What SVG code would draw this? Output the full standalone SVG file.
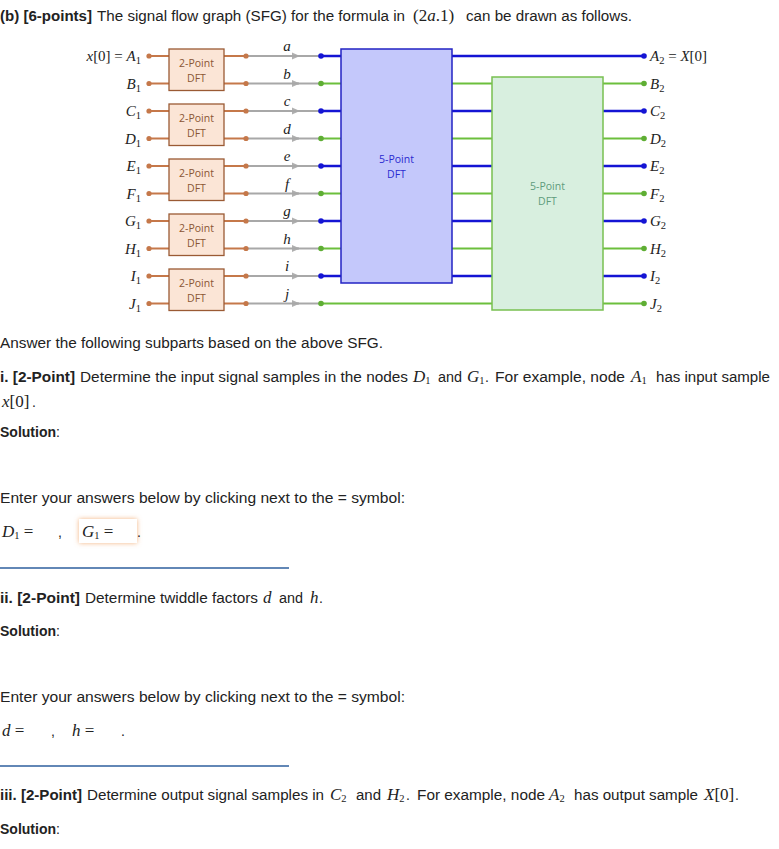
<svg xmlns="http://www.w3.org/2000/svg" width="779" height="849" viewBox="0 0 779 849">
<style>
.t{font-family:"Liberation Sans",Arial,sans-serif;font-size:14px;fill:#222}
.b{font-weight:bold}
.m{font-family:"Liberation Serif","Times New Roman",serif;font-size:17px;fill:#222}
.i{font-style:italic}
.lab{font-family:"Liberation Serif","Times New Roman",serif;font-size:15px;fill:#222}
.sub{font-size:10.5px}
.or{stroke:#c5784a;stroke-width:2;fill:none}
.gr{stroke:#a8a8a8;stroke-width:2;fill:none}
.bl{stroke:#1414d4;stroke-width:2.5;fill:none}
.gn{stroke:#6cbf3c;stroke-width:2;fill:none}
.dor{fill:#c5784a}
.dbl{fill:#1414d4}
.dgn{fill:#5fae34}
.box2{fill:#fbe5d6;stroke:#9a5a34;stroke-width:1.3}
.t2{font-family:"Open Sans","Liberation Sans",sans-serif;font-size:10.5px;fill:#8a5634;text-anchor:middle}
.t5{font-family:"Open Sans","Liberation Sans",sans-serif;font-size:10.5px;text-anchor:middle}
.hr{stroke:#2e5f9e;stroke-width:1.3}
</style>
<defs>
<marker id="ah" markerWidth="8" markerHeight="8" refX="7" refY="4" orient="auto" markerUnits="userSpaceOnUse">
<path d="M0,0.5 L8,4 L0,7.5 Z" fill="#b0b0b0"/>
</marker>
<filter id="glow" x="-30%" y="-50%" width="160%" height="200%">
<feDropShadow dx="0" dy="0" stdDeviation="2.5" flood-color="#f0a060" flood-opacity="0.8"/>
</filter>
</defs>

<!-- header -->
<text class="t b" x="0" y="21" textLength="92" lengthAdjust="spacingAndGlyphs">(b) [6-points]</text>
<text class="t" x="97" y="21" textLength="308" lengthAdjust="spacingAndGlyphs">The signal flow graph (SFG) for the formula in</text>
<text class="m" x="413" y="21">(2<tspan class="i">a</tspan>.1)</text>
<text class="t" x="466" y="21" textLength="166" lengthAdjust="spacingAndGlyphs">can be drawn as follows.</text>

<!-- connectors -->
<g id="connectors">
<g class="or">
<path d="M149,56H169M149,83.5H169M149,111H169M149,138.5H169M149,166H169M149,193.5H169M149,221H169M149,248.5H169M149,276H169M149,303.5H169"/>
<path d="M224,56H246M224,83.5H246M224,111H246M224,138.5H246M224,166H246M224,193.5H246M224,221H246M224,248.5H246M224,276H246M224,303.5H246"/>
</g>
<g class="gr">
<path d="M246,56H299" marker-end="url(#ah)"/><path d="M292,56H321"/>
<path d="M246,83.5H299" marker-end="url(#ah)"/><path d="M292,83.5H321"/>
<path d="M246,111H299" marker-end="url(#ah)"/><path d="M292,111H321"/>
<path d="M246,138.5H299" marker-end="url(#ah)"/><path d="M292,138.5H321"/>
<path d="M246,166H299" marker-end="url(#ah)"/><path d="M292,166H321"/>
<path d="M246,193.5H299" marker-end="url(#ah)"/><path d="M292,193.5H321"/>
<path d="M246,221H299" marker-end="url(#ah)"/><path d="M292,221H321"/>
<path d="M246,248.5H299" marker-end="url(#ah)"/><path d="M292,248.5H321"/>
<path d="M246,276H299" marker-end="url(#ah)"/><path d="M292,276H321"/>
<path d="M246,303.5H299" marker-end="url(#ah)"/><path d="M292,303.5H321"/>
</g>
<path class="bl" d="M321,56H644M321,111H341M321,166H341M321,221H341M321,276H341M452,111H492M452,166H492M452,221H492M452,276H492M603,111H644M603,166H644M603,221H644M603,276H644"/>
<path class="gn" d="M321,83.5H341M321,138.5H341M321,193.5H341M321,248.5H341M321,303.5H492M452,83.5H492M452,138.5H492M452,193.5H492M452,248.5H492M603,83.5H644M603,138.5H644M603,193.5H644M603,248.5H644M603,303.5H644"/>
<g class="dor">
<circle cx="149" cy="56" r="2.6"/><circle cx="149" cy="83.5" r="2.6"/><circle cx="149" cy="111" r="2.6"/><circle cx="149" cy="138.5" r="2.6"/><circle cx="149" cy="166" r="2.6"/><circle cx="149" cy="193.5" r="2.6"/><circle cx="149" cy="221" r="2.6"/><circle cx="149" cy="248.5" r="2.6"/><circle cx="149" cy="276" r="2.6"/><circle cx="149" cy="303.5" r="2.6"/>
<circle cx="246" cy="56" r="2.6"/><circle cx="246" cy="83.5" r="2.6"/><circle cx="246" cy="111" r="2.6"/><circle cx="246" cy="138.5" r="2.6"/><circle cx="246" cy="166" r="2.6"/><circle cx="246" cy="193.5" r="2.6"/><circle cx="246" cy="221" r="2.6"/><circle cx="246" cy="248.5" r="2.6"/><circle cx="246" cy="276" r="2.6"/><circle cx="246" cy="303.5" r="2.6"/>
</g>
<g class="dbl">
<circle cx="321" cy="56" r="2.8"/><circle cx="321" cy="111" r="2.8"/><circle cx="321" cy="166" r="2.8"/><circle cx="321" cy="221" r="2.8"/><circle cx="321" cy="276" r="2.8"/>
<circle cx="644" cy="56" r="2.8"/><circle cx="644" cy="111" r="2.8"/><circle cx="644" cy="166" r="2.8"/><circle cx="644" cy="221" r="2.8"/><circle cx="644" cy="276" r="2.8"/>
</g>
<g class="dgn">
<circle cx="321" cy="83.5" r="2.8"/><circle cx="321" cy="138.5" r="2.8"/><circle cx="321" cy="193.5" r="2.8"/><circle cx="321" cy="248.5" r="2.8"/><circle cx="321" cy="303.5" r="2.8"/>
<circle cx="644" cy="83.5" r="2.8"/><circle cx="644" cy="138.5" r="2.8"/><circle cx="644" cy="193.5" r="2.8"/><circle cx="644" cy="248.5" r="2.8"/><circle cx="644" cy="303.5" r="2.8"/>
</g>
<g class="lab i" text-anchor="middle">
<text x="287" y="51">a</text><text x="287" y="78.5">b</text><text x="287" y="106">c</text><text x="287" y="133.5">d</text><text x="287" y="161">e</text><text x="287" y="188.5">f</text><text x="287" y="216">g</text><text x="287" y="243.5">h</text><text x="287" y="271">i</text><text x="287" y="298.5">j</text>
</g>
</g>

<!-- input labels -->
<g id="inputs" class="lab" text-anchor="end">
<text x="141" y="61"><tspan class="i">x</tspan>[0] = <tspan class="i">A</tspan><tspan class="sub" dy="3">1</tspan></text>
<text x="141" y="88.5"><tspan class="i">B</tspan><tspan class="sub" dy="3">1</tspan></text>
<text x="141" y="116"><tspan class="i">C</tspan><tspan class="sub" dy="3">1</tspan></text>
<text x="141" y="143.5"><tspan class="i">D</tspan><tspan class="sub" dy="3">1</tspan></text>
<text x="141" y="171"><tspan class="i">E</tspan><tspan class="sub" dy="3">1</tspan></text>
<text x="141" y="198.5"><tspan class="i">F</tspan><tspan class="sub" dy="3">1</tspan></text>
<text x="141" y="226"><tspan class="i">G</tspan><tspan class="sub" dy="3">1</tspan></text>
<text x="141" y="253.5"><tspan class="i">H</tspan><tspan class="sub" dy="3">1</tspan></text>
<text x="141" y="281"><tspan class="i">I</tspan><tspan class="sub" dy="3">1</tspan></text>
<text x="141" y="308.5"><tspan class="i">J</tspan><tspan class="sub" dy="3">1</tspan></text>
</g>

<!-- 2-point DFT nodes -->
<g id="dft2_1"><rect class="box2" x="169" y="49" width="55" height="41.5"/><text class="t2" x="196.5" y="67">2-Point</text><text class="t2" x="196.5" y="81.5">DFT</text></g>
<g id="dft2_2"><rect class="box2" x="169" y="104" width="55" height="41.5"/><text class="t2" x="196.5" y="122">2-Point</text><text class="t2" x="196.5" y="136.5">DFT</text></g>
<g id="dft2_3"><rect class="box2" x="169" y="159" width="55" height="41.5"/><text class="t2" x="196.5" y="177">2-Point</text><text class="t2" x="196.5" y="191.5">DFT</text></g>
<g id="dft2_4"><rect class="box2" x="169" y="214" width="55" height="41.5"/><text class="t2" x="196.5" y="232">2-Point</text><text class="t2" x="196.5" y="246.5">DFT</text></g>
<g id="dft2_5"><rect class="box2" x="169" y="269" width="55" height="41.5"/><text class="t2" x="196.5" y="287">2-Point</text><text class="t2" x="196.5" y="301.5">DFT</text></g>

<!-- 5-point DFT nodes -->
<g id="dft5_blue"><rect x="341" y="49" width="111" height="234" fill="#c4c8fb" stroke="#2323c4" stroke-width="1.5"/><text class="t5" x="396.5" y="163" fill="#2a2ad0">5-Point</text><text class="t5" x="396.5" y="178" fill="#2a2ad0">DFT</text></g>
<g id="dft5_green"><rect x="492" y="77" width="111" height="233" fill="#d8efdf" stroke="#78c050" stroke-width="1.5"/><text class="t5" x="547.5" y="190" fill="#5e9c7c">5-Point</text><text class="t5" x="547.5" y="205" fill="#5e9c7c">DFT</text></g>

<!-- output labels -->
<g id="outputs" class="lab">
<text x="650" y="61"><tspan class="i">A</tspan><tspan class="sub" dy="3">2</tspan><tspan dy="-3"> = </tspan><tspan class="i">X</tspan>[0]</text>
<text x="650" y="88.5"><tspan class="i">B</tspan><tspan class="sub" dy="3">2</tspan></text>
<text x="650" y="116"><tspan class="i">C</tspan><tspan class="sub" dy="3">2</tspan></text>
<text x="650" y="143.5"><tspan class="i">D</tspan><tspan class="sub" dy="3">2</tspan></text>
<text x="650" y="171"><tspan class="i">E</tspan><tspan class="sub" dy="3">2</tspan></text>
<text x="650" y="198.5"><tspan class="i">F</tspan><tspan class="sub" dy="3">2</tspan></text>
<text x="650" y="226"><tspan class="i">G</tspan><tspan class="sub" dy="3">2</tspan></text>
<text x="650" y="253.5"><tspan class="i">H</tspan><tspan class="sub" dy="3">2</tspan></text>
<text x="650" y="281"><tspan class="i">I</tspan><tspan class="sub" dy="3">2</tspan></text>
<text x="650" y="308.5"><tspan class="i">J</tspan><tspan class="sub" dy="3">2</tspan></text>
</g>

<!-- question text -->
<text class="t" x="0" y="348" textLength="383" lengthAdjust="spacingAndGlyphs">Answer the following subparts based on the above SFG.</text>

<text class="t b" x="0" y="382" textLength="75" lengthAdjust="spacingAndGlyphs">i. [2-Point]</text>
<text class="t" x="80" y="382" textLength="328" lengthAdjust="spacingAndGlyphs">Determine the input signal samples in the nodes</text>
<text class="m" x="413" y="382"><tspan class="i">D</tspan><tspan class="sub" dy="2">1</tspan></text>
<text class="t" x="438" y="382" textLength="24" lengthAdjust="spacingAndGlyphs">and</text>
<text class="m" x="467" y="382"><tspan class="i">G</tspan><tspan class="sub" dy="2">1</tspan></text>
<text class="t" x="485" y="382">.</text>
<text class="t" x="495" y="382" textLength="130" lengthAdjust="spacingAndGlyphs">For example, node</text>
<text class="m" x="631" y="382"><tspan class="i">A</tspan><tspan class="sub" dy="2">1</tspan></text>
<text class="t" x="656" y="382" textLength="114" lengthAdjust="spacingAndGlyphs">has input sample</text>
<text class="m" x="2" y="407"><tspan class="i">x</tspan>[0]</text>
<text class="t" x="32" y="407">.</text>
<text class="t" x="0" y="437"><tspan class="b">Solution</tspan>:</text>

<text class="t" x="0" y="503" textLength="405" lengthAdjust="spacingAndGlyphs">Enter your answers below by clicking next to the = symbol:</text>
<text class="m" x="2" y="537"><tspan class="i">D</tspan><tspan class="sub" dy="2">1</tspan><tspan dy="-2"> =</tspan></text>
<text class="t" x="58" y="537">,</text>
<rect x="79" y="519" width="58" height="24" fill="#fff" filter="url(#glow)"/>
<text class="m" x="82" y="537"><tspan class="i">G</tspan><tspan class="sub" dy="2">1</tspan><tspan dy="-2"> =</tspan></text>
<text class="t" x="137" y="537">.</text>
<line class="hr" x1="0" y1="568" x2="289" y2="568"/>

<text class="t b" x="0" y="603" textLength="80" lengthAdjust="spacingAndGlyphs">ii. [2-Point]</text>
<text class="t" x="85" y="603" textLength="173" lengthAdjust="spacingAndGlyphs">Determine twiddle factors</text>
<text class="m i" x="263" y="603">d</text>
<text class="t" x="279" y="603" textLength="24" lengthAdjust="spacingAndGlyphs">and</text>
<text class="m" x="310" y="603"><tspan class="i">h</tspan></text>
<text class="t" x="319" y="603">.</text>
<text class="t" x="0" y="636"><tspan class="b">Solution</tspan>:</text>

<text class="t" x="0" y="702" textLength="405" lengthAdjust="spacingAndGlyphs">Enter your answers below by clicking next to the = symbol:</text>
<text class="m" x="2" y="736"><tspan class="i">d</tspan> =</text>
<text class="t" x="51" y="736">,</text>
<text class="m" x="72" y="736"><tspan class="i">h</tspan> =</text>
<text class="t" x="121" y="736">.</text>
<line class="hr" x1="0" y1="766" x2="289" y2="766"/>

<text class="t b" x="0" y="800" textLength="82" lengthAdjust="spacingAndGlyphs">iii. [2-Point]</text>
<text class="t" x="87" y="800" textLength="237" lengthAdjust="spacingAndGlyphs">Determine output signal samples in</text>
<text class="m" x="330" y="800"><tspan class="i">C</tspan><tspan class="sub" dy="2">2</tspan></text>
<text class="t" x="356" y="800" textLength="25" lengthAdjust="spacingAndGlyphs">and</text>
<text class="m" x="387" y="800"><tspan class="i">H</tspan><tspan class="sub" dy="2">2</tspan></text>
<text class="t" x="406" y="800">.</text>
<text class="t" x="417" y="800" textLength="128" lengthAdjust="spacingAndGlyphs">For example, node</text>
<text class="m" x="549" y="800"><tspan class="i">A</tspan><tspan class="sub" dy="2">2</tspan></text>
<text class="t" x="574" y="800" textLength="124" lengthAdjust="spacingAndGlyphs">has output sample</text>
<text class="m" x="704" y="800"><tspan class="i">X</tspan>[0]</text>
<text class="t" x="735" y="800">.</text>
<text class="t" x="0" y="834"><tspan class="b">Solution</tspan>:</text>
</svg>
